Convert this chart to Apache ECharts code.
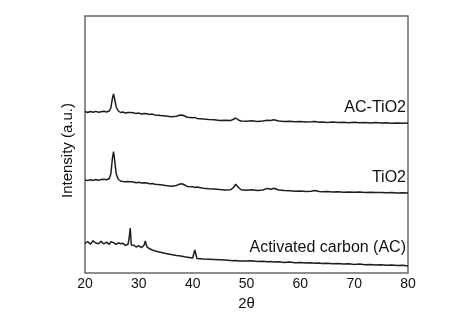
<!DOCTYPE html>
<html>
<head>
<meta charset="utf-8">
<script src="https://cdn.jsdelivr.net/npm/echarts@6/dist/echarts.min.js"></script>
<style>
html,body{margin:0;padding:0;background:#fff;}
#chart{width:474px;height:332px;}
</style>
</head>
<body>
<div id="chart"></div>
<script>
var twoTheta = [20,20.5,21,21.5,22,22.5,23,23.5,24,24.5,
 24.8,25.1,25.3,25.5,25.8,26.2,26.6,27,27.5,28,
 28.2,28.4,28.6,29,29.5,30,30.5,31,31.2,31.5,
 32,32.5,33,34,35,36,37,37.5,38,38.5,
 39,40,40.4,40.8,41,42,43,44,45,46,
 47,47.5,48,48.5,49,50,51,52,53,53.9,
 54.5,55.1,56,57,58,59,60,61,62,62.7,
 63.5,64,65,66,67,68,69,70,71,72,
 73,74,75,76,77,78,79,80];

var acTiO2 = [161.5,160.5,161.5,160.8,161.6,160.7,161.3,161.8,161,162,
 165,175,179,174,166,162,160.5,161,160,160.6,
 159.8,160.5,159.7,160.2,159.4,159.9,159,159.6,158.8,159.3,
 158.6,158.9,158,157.6,157,156.2,156.8,157.8,158,157,
 155.8,155.2,155.6,154.6,154.9,154,153.6,153.3,152.6,152.8,
 152.4,153.5,155,153,152,151.8,152.2,151.6,152,152.8,
 152.5,153.3,152,151.4,151.8,151.2,151.5,151,151.2,151.5,
 150.8,151.1,150.6,151,150.5,150.8,150.3,150.7,150.2,150.5,
 150,150.4,150,150.3,149.8,150.1,149.7,149.9];

var tiO2 = [93.2,92.4,93.3,92.6,93.5,92.8,93.4,93.8,93.2,94.5,
 99,115,121.5,113,99,93.5,92,91.6,91.2,91.5,
 90.8,91.3,90.7,91,90.3,90.7,90,90.3,89.6,89.9,
 89.2,89.5,88.7,88.2,87.4,86.8,87.6,88.8,89.2,88,
 86.6,86.2,85.6,85.9,85.3,84.8,84.2,83.9,83.4,83,
 83.2,85,88.8,85.5,83.2,82.8,83.2,82.6,83,84.6,
 83.8,84.8,83,82.4,82.2,81.8,82,81.5,81.7,82.4,
 81.4,81.2,81.5,81,81.3,80.8,81.1,80.7,80.9,80.5,
 80.8,80.4,80.6,80.2,80.5,80.1,80.3,80];

var activatedCarbon = [29.5,31.5,28.8,32.2,30,29.2,31.6,29,30.8,28.6,
 31.2,29.6,30.4,32,28.6,30.2,29.2,29.8,27.6,28.8,
 35,45,28,27.8,26,27.2,25.4,28,32,26.2,
 24.2,23,22,20.8,19.6,18.6,17.6,17.2,16.8,16.2,
 15.8,15,23,14.5,14.6,14,13.8,13.5,13.2,12.9,
 12.5,12.3,12.6,12.1,11.9,12,12.2,11.5,11.7,11.3,
 11.6,10.9,11.2,10.6,10.9,10.3,10.5,10,10.3,9.7,
 10,9.5,9.8,9.2,9.5,8.9,9.2,8.6,8.9,8.3,
 8.6,8,8.3,7.7,8,7.4,7.7,7.1];

var xTicks = [20,30,40,50,60,70,80];
var seriesNames = ['AC-TiO2','TiO2','Activated carbon (AC)'];

function pairs(ys){ return twoTheta.map(function(x,i){ return [x, ys[i]]; }); }

var chart = echarts.init(document.getElementById('chart'), null, {renderer:'canvas'});
var font = 'Liberation Sans, Arial, sans-serif';
var lineStyle = {color:'#1e1e1e', width:1.5};

chart.setOption({
  animation:false,
  backgroundColor:'#ffffff',
  grid:{left:85, right:66, top:16, bottom:59, show:true, borderColor:'#6a6a6a', borderWidth:1.5, backgroundColor:'transparent'},
  xAxis:{
    type:'value', min:xTicks[0], max:xTicks[xTicks.length-1], interval:10,
    name:'2\u03b8', nameLocation:'middle', nameGap:21,
    nameTextStyle:{fontFamily:font, fontSize:15, color:'#111'},
    axisLine:{show:false}, axisTick:{show:false}, splitLine:{show:false},
    axisLabel:{fontFamily:font, fontSize:14, color:'#111', margin:4}
  },
  yAxis:{
    type:'value', min:0, max:257,
    name:'Intensity (a.u.)', nameLocation:'middle', nameGap:10, nameRotate:90,
    nameTextStyle:{fontFamily:font, fontSize:15, color:'#111', padding:[0,12,0,0]},
    axisLine:{show:false}, axisTick:{show:false}, splitLine:{show:false},
    axisLabel:{show:false}
  },
  series:[
    {name:seriesNames[0], type:'line', data:pairs(acTiO2), showSymbol:false, lineStyle:lineStyle},
    {name:seriesNames[1], type:'line', data:pairs(tiO2), showSymbol:false, lineStyle:lineStyle},
    {name:seriesNames[2], type:'line', data:pairs(activatedCarbon), showSymbol:false, lineStyle:lineStyle}
  ],
  graphic:[
    {type:'text', right:68, top:100, style:{text:seriesNames[0], font:'16px '+font, fill:'#111'}},
    {type:'text', right:68, top:170, style:{text:seriesNames[1], font:'16px '+font, fill:'#111'}},
    {type:'text', right:68, top:240, style:{text:seriesNames[2], font:'16px '+font, fill:'#111'}}
  ]
});
</script>
</body>
</html>
